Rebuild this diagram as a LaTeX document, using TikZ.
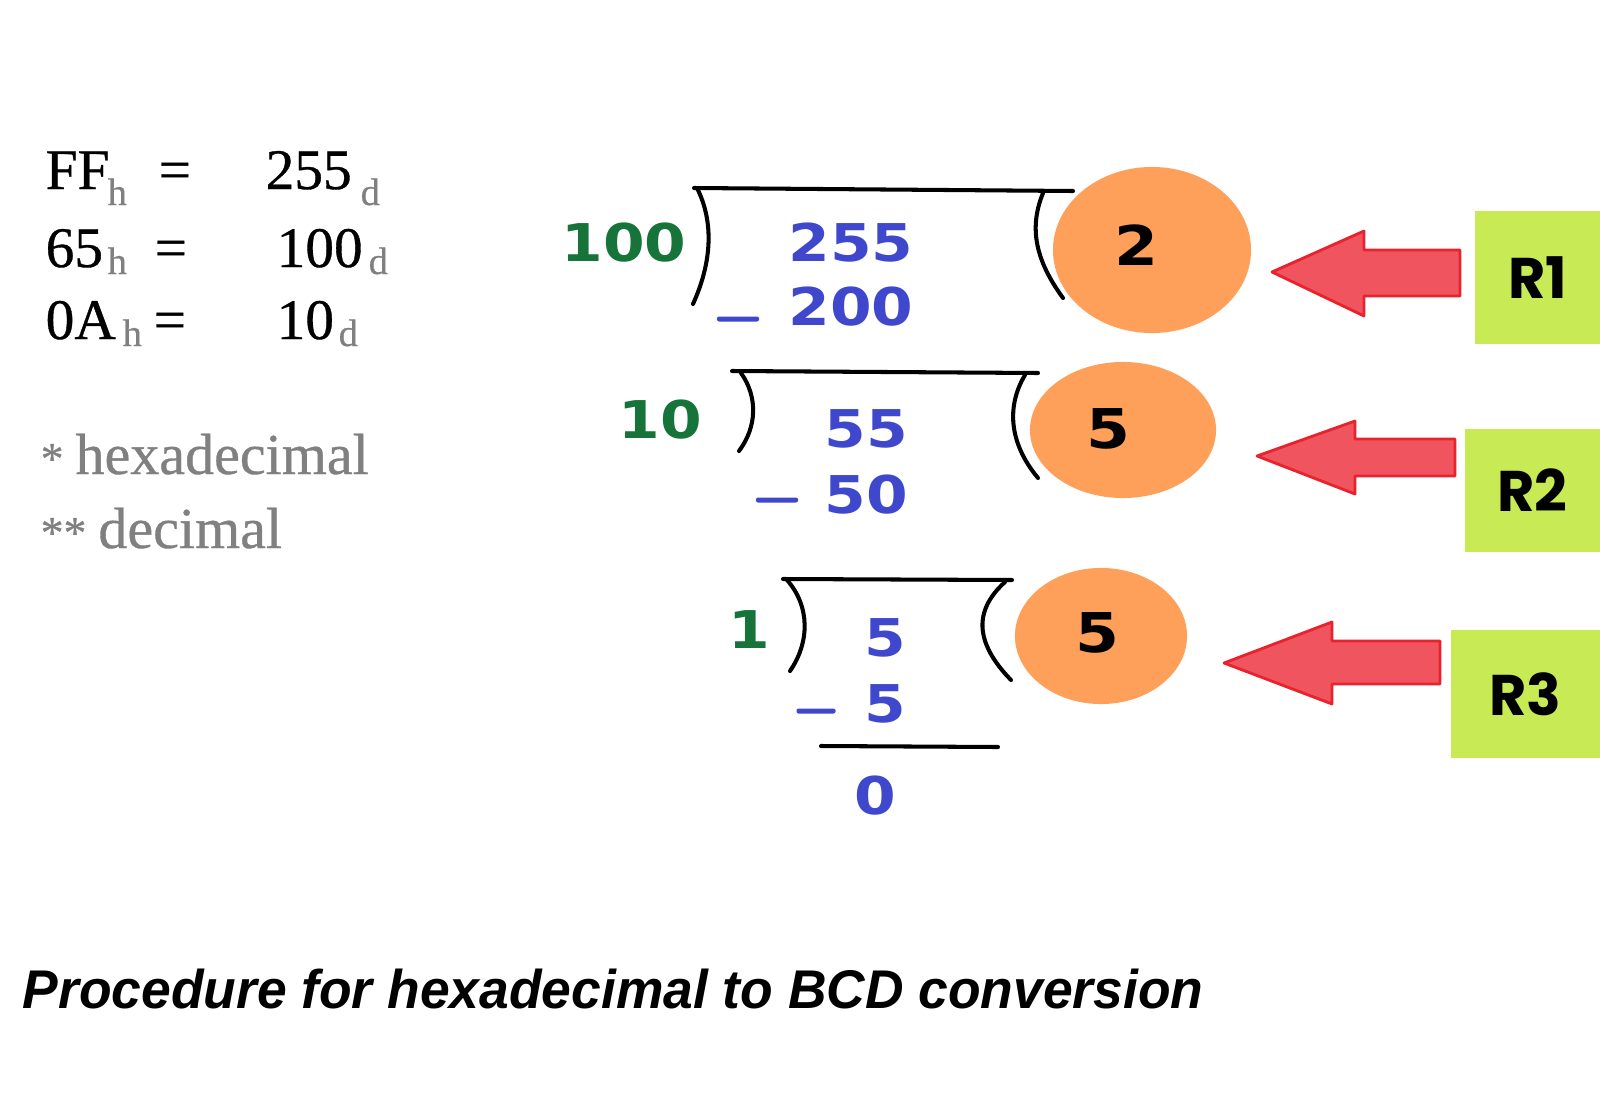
\documentclass[tikz,border=0pt]{standalone}
\usepackage{graphicx}
\usepackage{fontspec}
\usetikzlibrary{shapes.geometric}
\setmainfont{Liberation Serif}
\newfontfamily\eqfont[FakeBold=0.6]{Liberation Serif}
\newfontfamily\divfont[FakeStretch=1.15]{DejaVu Sans}
\newfontfamily\rfont{Poppins}
\newfontfamily\titfont{Liberation Sans}
\newcommand\eqfs{\eqfont\fontsize{16.3pt}{18pt}\selectfont}
\newcommand\subfs{\eqfont\fontsize{10.9pt}{12pt}\selectfont}
\newcommand\notefs{\eqfont\fontsize{16.5pt}{18pt}\selectfont}
\newcommand\starfs{\eqfont\fontsize{13pt}{14pt}\selectfont}
\newcommand\divfs{\divfont\bfseries\fontsize{14.8pt}{16pt}\selectfont}
\newcommand\remfs{\divfont\bfseries\fontsize{15.6pt}{17pt}\selectfont}
\newcommand\rfs{\rfont\bfseries\fontsize{16.3pt}{17pt}\selectfont}
\newcommand\titfs{\titfont\bfseries\itshape\fontsize{15.5pt}{17pt}\selectfont}
\definecolor{dgreen}{HTML}{16733A}
\definecolor{dblue}{HTML}{3F48CC}
\definecolor{orng}{HTML}{FFA05A}
\definecolor{arrfill}{HTML}{F0545E}
\definecolor{arrline}{HTML}{E8232D}
\definecolor{lime}{HTML}{C8EB55}
\definecolor{gry}{HTML}{808080}
\begin{document}
\begin{tikzpicture}[x=0.01cm,y=-0.01cm,
  eq/.style={anchor=base west,inner sep=0pt,font=\eqfs},
  sub/.style={anchor=base west,inner sep=0pt,font=\subfs,text=gry},
  note/.style={anchor=base west,inner sep=0pt,font=\notefs,text=gry},
  divnum/.style={inner sep=0pt,font=\divfs,text=dblue},
  divisor/.style={inner sep=0pt,font=\divfs,text=dgreen},
  minus/.style={fill=dblue,inner sep=0pt,minimum width=0.42cm,minimum height=0.05cm,rounded corners=0.02cm},
  rem/.style={ellipse,fill=orng,inner sep=0pt},
  remtext/.style={inner sep=0pt,font=\remfs,text=black},
  hand/.style={line width=1.15pt,line cap=round,black},
  rbox/.style={fill=lime,inner sep=0pt,font=\rfs,text=black},
  bigarrow/.style={fill=arrfill,draw=arrline,line width=0.8pt,line join=round}
]
\useasboundingbox (0,0) rectangle (1600,1100);

% left equations
\node[eq] (ff) at (45,189) {FF};
\node[sub] (ffh) at (107,205) {h};
\node[eq] (eq1) at (158,189) {=};
\node[eq] (v255) at (265,189) {255};
\node[sub] (d1) at (360,205) {d};

\node[eq] (s65) at (45,267) {65};
\node[sub] (s65h) at (107,274) {h};
\node[eq] (eq2) at (154,267) {=};
\node[eq] (v100) at (276,267) {100};
\node[sub] (d2) at (368,274) {d};

\node[eq] (s0a) at (45,339) {0A};
\node[sub] (s0ah) at (122,346) {h};
\node[eq] (eq3) at (153,339) {=};
\node[eq] (v10) at (276,339) {10};
\node[sub] (d3) at (338,346) {d};

\node[note] (n1) at (40,474) {{\starfs*}\hspace{0.12cm}hexadecimal};
\node[note] (n2) at (40,548) {{\starfs**}\hspace{0.12cm}decimal};

% division 1
\draw[hand] (694,188) -- (1073,191);
\draw[hand] (697,188) .. controls (714,222) and (712,262) .. (693,304);
\draw[hand] (1043,193) .. controls (1030,225) and (1033,257) .. (1063,298);
\node[divisor] (dv1) at (624,243) {100};
\node[divnum] (a1) at (851,243) {255};
\node[minus] (m1) at (738,319) {};
\node[divnum] (b1) at (851,307) {200};

% division 2
\draw[hand] (732,371) -- (1038,373);
\draw[hand] (741,373) .. controls (758,397) and (757,427) .. (739,451);
\draw[hand] (1025,375) .. controls (1007,405) and (1008,442) .. (1038,478);
\node[divisor] (dv2) at (660,420) {10};
\node[divnum] (a2) at (866,429) {55};
\node[minus] (m2) at (777,500) {};
\node[divnum] (b2) at (866,495) {50};

% division 3
\draw[hand] (783,579) -- (1012,580);
\draw[hand] (787,580) .. controls (810,606) and (810,642) .. (790,671);
\draw[hand] (1005,582) .. controls (974,610) and (974,642) .. (1011,680);
\node[divisor] (dv3) at (749,630) {1};
\node[divnum] (a3) at (885,638) {5};
\node[minus,minimum width=0.39cm] (m3) at (816,711) {};
\node[divnum] (b3) at (885,704) {5};
\draw[hand] (821,746) -- (998,747);
\node[divnum] (c3) at (875,796) {0};

% remainders
\node[rem,minimum width=1.98cm,minimum height=1.66cm] (q1) at (1152,250) {};
\node[remtext] (q1t) at (1136,245) {2};
\node[rem,minimum width=1.86cm,minimum height=1.36cm] (q2) at (1123,430) {};
\node[remtext] (q2t) at (1108,429) {5};
\node[rem,minimum width=1.72cm,minimum height=1.36cm] (q3) at (1101,636) {};
\node[remtext] (q3t) at (1097,633) {5};

% registers
\node[rbox,minimum width=1.25cm,minimum height=1.32cm] (r1) at (1537.5,277.5) {R1};
\node[rbox,minimum width=1.35cm,minimum height=1.23cm] (r2) at (1532.5,490.5) {R2};
\node[rbox,minimum width=1.49cm,minimum height=1.28cm] (r3) at (1525.5,694) {R3};

% arrows
\draw[bigarrow] (1272,272) -- (1364,231) -- (1364,250) -- (1460,250) -- (1460,296) -- (1364,296) -- (1364,316) -- cycle;
\draw[bigarrow] (1257,456) -- (1355,421) -- (1355,439) -- (1455,439) -- (1455,476) -- (1355,476) -- (1355,494) -- cycle;
\draw[bigarrow] (1224,663) -- (1332,622) -- (1332,641) -- (1440,641) -- (1440,684) -- (1332,684) -- (1332,704) -- cycle;

% title
\node[anchor=base west,inner sep=0pt,font=\titfs] (title) at (22,1008) {\resizebox{11.8cm}{\height}{Procedure for hexadecimal to BCD conversion}};
\end{tikzpicture}
\end{document}
